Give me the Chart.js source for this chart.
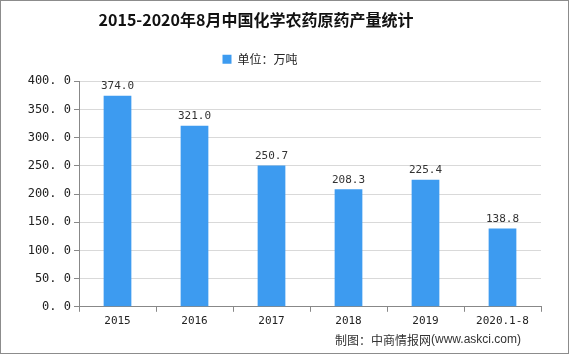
<!DOCTYPE html>
<html>
<head>
<meta charset="utf-8">
<script src="https://cdn.jsdelivr.net/npm/chart.js@4"></script>
<style>
  html, body { margin: 0; padding: 0; background: #fff; }
  #wrap { position: relative; width: 567px; height: 352px; border: 1px solid #8c8c8c; }
</style>
</head>
<body>
<div id="wrap"><canvas id="barChart" width="567" height="352"></canvas></div>
<script>
const years = ["2015", "2016", "2017", "2018", "2019", "2020.1-8"];
const output = [374.0, 321.0, 250.7, 208.3, 225.4, 138.8]; // 万吨
const yTicks = [0, 50, 100, 150, 200, 250, 300, 350, 400];

const barColor = "#3d9bf0";
const cnFont = "'Noto Sans CJK SC', sans-serif";

// value labels above bars + footer note
const extras = {
  id: "extras",
  afterDatasetsDraw(chart) {
    const ctx = chart.ctx;
    const meta = chart.getDatasetMeta(0);
    ctx.save();
    ctx.fillStyle = "#333";
    ctx.font = "11px 'DejaVu Sans Mono', monospace";
    ctx.textAlign = "center";
    ctx.textBaseline = "bottom";
    meta.data.forEach((bar, i) => {
      ctx.fillText(output[i].toFixed(1), bar.x, bar.y - 4);
    });
    ctx.font = "12px " + cnFont;
    ctx.textAlign = "right";
    ctx.textBaseline = "middle";
    ctx.fillText("制图：中商情报网", 430, 339);
    ctx.font = "12px 'Liberation Sans', sans-serif";
    ctx.textAlign = "left";
    ctx.fillText("(www.askci.com)", 430, 339);
    ctx.restore();
  },
};

// extra room under the legend, and title/legend nudged left like the original
const shiftDraw = (box, dx) => {
  const draw = box.draw;
  box.draw = function () {
    const c = this.ctx;
    c.save();
    c.translate(dx, 0);
    draw.apply(this, arguments);
    c.restore();
  };
};
const headerTweak = {
  id: "headerTweak",
  beforeInit(chart) {
    const fit = chart.legend.fit;
    chart.legend.fit = function () {
      fit.bind(chart.legend)();
      this.height += 6;
    };
    shiftDraw(chart.legend, -12);
    shiftDraw(chart.titleBlock, -16);
  },
};

var ctx = document.getElementById("barChart").getContext("2d");
new Chart(ctx, {
  type: "bar",
  data: {
    labels: years,
    datasets: [
      {
        label: "单位：万吨",
        data: output,
        backgroundColor: barColor,
        borderWidth: 0,
        categoryPercentage: 1,
        barPercentage: 0.36,
      },
    ],
  },
  options: {
    responsive: false,
    animation: false,
    layout: { padding: { left: 2, right: 27, top: 5, bottom: 22 } },
    plugins: {
      title: {
        display: true,
        text: "2015-2020年8月中国化学农药原药产量统计",
        color: "#111",
        font: { family: cnFont, size: 16, weight: "bold" },
        padding: { top: 4, bottom: 10 },
      },
      legend: {
        position: "top",
        labels: {
          color: "#222",
          font: { family: cnFont, size: 12 },
          boxWidth: 9,
          boxHeight: 9,
          padding: 14,
        },
      },
      tooltip: { enabled: false },
    },
    scales: {
      x: {
        grid: {
          drawOnChartArea: false,
          offset: true,
          tickLength: 5,
          color: "#888",
        },
        border: { color: "#888" },
        ticks: {
          color: "#222",
          font: { family: "'DejaVu Sans Mono', monospace", size: 11 },
          padding: 3,
        },
      },
      y: {
        min: 0,
        max: 400,
        afterFit(scale) { scale.width = 76; },
        afterBuildTicks(scale) { scale.ticks = yTicks.map((v) => ({ value: v })); },
        grid: { color: "#d9d9d9", tickLength: 5, tickColor: "#888" },
        border: { color: "#888" },
        ticks: {
          color: "#222",
          font: { family: "'DejaVu Sans Mono', monospace", size: 12 },
          padding: 3,
          callback: (v) => v.toFixed(1).replace(".", ". "),
        },
      },
    },
  },
  plugins: [extras, headerTweak],
});
</script>
</body>
</html>
